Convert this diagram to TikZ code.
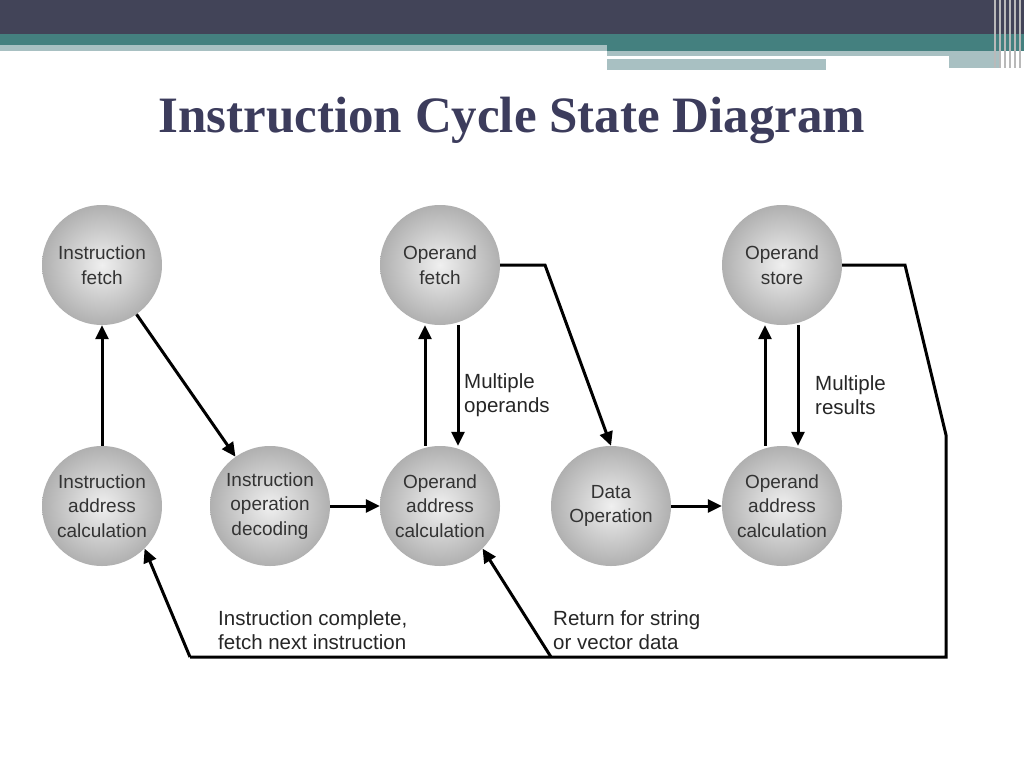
\documentclass[tikz,border=0pt]{standalone}
\usepackage{fontspec}
\setmainfont{Liberation Sans}
\newfontfamily\titlefont{Liberation Serif}
\usetikzlibrary{arrows.meta}
\definecolor{hdark}{HTML}{424458}
\definecolor{hteal}{HTML}{44807F}
\definecolor{hlight}{HTML}{A8C0C2}
\definecolor{ttl}{HTML}{3C3C5C}
\begin{document}
\begin{tikzpicture}[x=1pt,y=-1pt,
  st/.style={circle,minimum size=120pt,inner sep=0pt,shading=radial,inner color=gray!12,outer color=gray!62,align=center,font=\fontsize{19}{24.5}\selectfont,text=black!80},
  con/.style={line width=3pt,-{Triangle[length=14pt,width=13pt]}},
  ln/.style={line width=3pt},
  lbl/.style={align=left,font=\fontsize{20.5}{24}\selectfont,text=black!85,inner sep=0pt}]
\useasboundingbox (0,0) rectangle (1024,768);
\fill[white] (0,0) rectangle (1024,768);
% header
\fill[hdark] (0,0) rectangle (1024,34);
\fill[hteal] (0,34) rectangle (1024,45);
\fill[hteal] (607,45) rectangle (1024,51);
\fill[hlight] (0,45) rectangle (607,51);
\fill[hlight] (607,51) rectangle (1000,56);
\fill[hlight] (607,59) rectangle (826,70);
\fill[hlight] (949,56) rectangle (1000,68);
\foreach \x in {994,999,1004,1009,1014,1019}{\fill[gray!55] (\x,0) rectangle (\x+1.5,68);}
% title
\node[font=\titlefont\bfseries\fontsize{51}{56}\selectfont,text=ttl] (title) at (512,120) {Instruction Cycle State Diagram};
% states
\node[st] (if) at (102,265) {Instruction\\fetch};
\node[st] (of) at (440,265) {Operand\\fetch};
\node[st] (os) at (782,265) {Operand\\store};
\node[st] (iac) at (102,506) {Instruction\\address\\calculation};
\node[st] (iod) at (270,506) {Instruction\\operation\\decoding};
\node[st] (oac1) at (440,506) {Operand\\address\\calculation};
\node[st] (do) at (611,506) {Data\\Operation};
\node[st] (oac2) at (782,506) {Operand\\address\\calculation};
% connectors
\draw[con] (iac.north) -- (if.south);
\draw[con] (if.-55) -- (iod.125);
\draw[con] (iod.east) -- (oac1.west);
\draw[con] ([xshift=-15pt]oac1.north) -- ([xshift=-15pt]of.south);
\draw[con] ([xshift=18pt]of.south) -- ([xshift=18pt]oac1.north);
\coordinate (c1) at (545,265);
\draw[con] (of.east) -- (c1) -- (do.north);
\draw[con] (do.east) -- (oac2.west);
\draw[con] ([xshift=-17pt]oac2.north) -- ([xshift=-17pt]os.south);
\draw[con] ([xshift=16pt]os.south) -- ([xshift=16pt]oac2.north);
\coordinate (c2) at (905,265);
\coordinate (c3) at (946,435);
\coordinate (c4) at (946,657);
\coordinate (c5) at (190,657);
\coordinate (c6) at (551,657);
\draw[ln,line join=miter] (os.east) -- (c2) -- (c3) -- (c4) -- (c5);
\draw[con] (c5) -- (iac.-45);
\draw[con] (c6) -- (oac1.-45);
% labels
\node[lbl,anchor=west] (l1) at (464,395) {Multiple\\operands};
\node[lbl,anchor=west] (l2) at (815,395) {Multiple\\results};
\node[lbl,anchor=west] (l3) at (218,630) {Instruction complete,\\fetch next instruction};
\node[lbl,anchor=west] (l4) at (553,630) {Return for string\\or vector data};
\end{tikzpicture}
\end{document}
